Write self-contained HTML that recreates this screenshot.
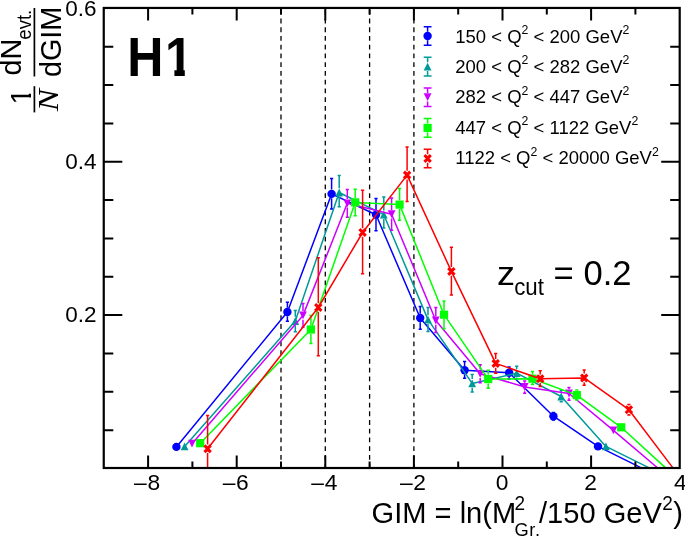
<!DOCTYPE html>
<html><head><meta charset="utf-8"><title>H1 GIM</title>
<style>
html,body{margin:0;padding:0;background:#fff;}
svg{display:block;}
text{font-family:"Liberation Sans",sans-serif;fill:#000;}
.ser{font-family:"Liberation Serif",serif;font-style:italic;}
</style></head><body>
<svg width="685" height="538" viewBox="0 0 685 538">
<rect x="0" y="0" width="685" height="538" fill="#fff"/>
<defs><clipPath id="fr"><rect x="103.8" y="8.0" width="576.0" height="460.4"/></clipPath></defs>

<line x1="281.0" y1="9.87" x2="281.0" y2="468.0" stroke="#000" stroke-width="1.3" stroke-dasharray="4.8,3.928"/>
<line x1="325.3" y1="9.87" x2="325.3" y2="468.0" stroke="#000" stroke-width="1.3" stroke-dasharray="4.8,3.928"/>
<line x1="369.6" y1="9.87" x2="369.6" y2="468.0" stroke="#000" stroke-width="1.3" stroke-dasharray="4.8,3.928"/>
<line x1="413.9" y1="9.87" x2="413.9" y2="468.0" stroke="#000" stroke-width="1.3" stroke-dasharray="4.8,3.928"/>
<g clip-path="url(#fr)">
<polyline fill="none" stroke="#0000ff" stroke-width="1.5" stroke-linejoin="round" points="176.4,446.9 287.4,312.0 331.6,193.9 376.0,214.7 420.2,318.0 464.6,370.2 509.1,372.8 553.4,416.2 598.0,446.4 642.3,468.3"/>
<path d="M287.4,302.3V307.7M287.4,316.3V321.3M285.8,302.3h3.2M285.8,321.3h3.2" stroke="#0000ff" stroke-width="1.5" fill="none"/>
<path d="M331.6,178.6V189.6M331.6,198.2V209.0M330.0,178.6h3.2M330.0,209.0h3.2" stroke="#0000ff" stroke-width="1.5" fill="none"/>
<path d="M376.0,198.4V210.4M376.0,219.0V230.7M374.4,198.4h3.2M374.4,230.7h3.2" stroke="#0000ff" stroke-width="1.5" fill="none"/>
<path d="M420.2,306.4V313.7M420.2,322.3V329.2M418.6,306.4h3.2M418.6,329.2h3.2" stroke="#0000ff" stroke-width="1.5" fill="none"/>
<path d="M464.6,361.6V365.9M464.6,374.5V378.2M463.0,361.6h3.2M463.0,378.2h3.2" stroke="#0000ff" stroke-width="1.5" fill="none"/>
<path d="M509.1,367.0V368.5M509.1,377.1V379.1M507.5,367.0h3.2M507.5,379.1h3.2" stroke="#0000ff" stroke-width="1.5" fill="none"/>
<path d="M551.8,412.5h3.2M551.8,420.0h3.2" stroke="#0000ff" stroke-width="1.5" fill="none"/>
<circle cx="176.4" cy="446.9" r="4.2" fill="#0000ff"/>
<circle cx="287.4" cy="312.0" r="4.2" fill="#0000ff"/>
<circle cx="331.6" cy="193.9" r="4.2" fill="#0000ff"/>
<circle cx="376.0" cy="214.7" r="4.2" fill="#0000ff"/>
<circle cx="420.2" cy="318.0" r="4.2" fill="#0000ff"/>
<circle cx="464.6" cy="370.2" r="4.2" fill="#0000ff"/>
<circle cx="509.1" cy="372.8" r="4.2" fill="#0000ff"/>
<circle cx="553.4" cy="416.2" r="4.2" fill="#0000ff"/>
<circle cx="598.0" cy="446.4" r="4.2" fill="#0000ff"/>
<polyline fill="none" stroke="#009999" stroke-width="1.5" stroke-linejoin="round" points="184.6,446.4 295.3,321.0 339.2,192.5 383.8,214.7 428.0,319.6 472.2,383.4 516.7,373.2 561.2,396.5 605.9,446.4 650.2,468.3"/>
<path d="M295.3,310.5V316.7M295.3,325.3V331.7M293.7,310.5h3.2M293.7,331.7h3.2" stroke="#009999" stroke-width="1.5" fill="none"/>
<path d="M339.2,175.6V188.2M339.2,196.8V206.8M337.6,175.6h3.2M337.6,206.8h3.2" stroke="#009999" stroke-width="1.5" fill="none"/>
<path d="M383.8,196.9V210.4M383.8,219.0V228.0M382.2,196.9h3.2M382.2,228.0h3.2" stroke="#009999" stroke-width="1.5" fill="none"/>
<path d="M428.0,307.5V315.3M428.0,323.9V331.4M426.4,307.5h3.2M426.4,331.4h3.2" stroke="#009999" stroke-width="1.5" fill="none"/>
<path d="M472.2,374.6V379.1M472.2,387.7V392.1M470.6,374.6h3.2M470.6,392.1h3.2" stroke="#009999" stroke-width="1.5" fill="none"/>
<path d="M516.7,366.3V368.9M516.7,377.5V378.7M515.1,366.3h3.2M515.1,378.7h3.2" stroke="#009999" stroke-width="1.5" fill="none"/>
<path d="M561.2,390.2V392.2M561.2,400.8V401.8M559.6,390.2h3.2M559.6,401.8h3.2" stroke="#009999" stroke-width="1.5" fill="none"/>
<polygon points="184.6,442.5 188.5,450.3 180.7,450.3" fill="#009999"/>
<polygon points="295.3,317.1 299.2,324.9 291.4,324.9" fill="#009999"/>
<polygon points="339.2,188.6 343.1,196.4 335.3,196.4" fill="#009999"/>
<polygon points="383.8,210.8 387.7,218.6 379.9,218.6" fill="#009999"/>
<polygon points="428.0,315.7 431.9,323.5 424.1,323.5" fill="#009999"/>
<polygon points="472.2,379.5 476.1,387.3 468.3,387.3" fill="#009999"/>
<polygon points="516.7,369.3 520.6,377.1 512.8,377.1" fill="#009999"/>
<polygon points="561.2,392.6 565.1,400.4 557.3,400.4" fill="#009999"/>
<polygon points="605.9,442.5 609.8,450.3 602.0,450.3" fill="#009999"/>
<polyline fill="none" stroke="#cc00ff" stroke-width="1.5" stroke-linejoin="round" points="192.0,443.7 303.0,315.4 347.3,203.3 391.6,214.2 435.8,320.5 480.2,373.8 524.7,387.0 569.0,393.5 613.4,430.4 657.7,468.0"/>
<path d="M303.0,303.5V311.1M303.0,319.7V327.3M301.4,303.5h3.2M301.4,327.3h3.2" stroke="#cc00ff" stroke-width="1.5" fill="none"/>
<path d="M347.3,189.5V199.0M347.3,207.6V217.2M345.7,189.5h3.2M345.7,217.2h3.2" stroke="#cc00ff" stroke-width="1.5" fill="none"/>
<path d="M391.6,198.0V209.9M391.6,218.5V230.3M390.0,198.0h3.2M390.0,230.3h3.2" stroke="#cc00ff" stroke-width="1.5" fill="none"/>
<path d="M435.8,307.5V316.2M435.8,324.8V332.5M434.2,307.5h3.2M434.2,332.5h3.2" stroke="#cc00ff" stroke-width="1.5" fill="none"/>
<path d="M480.2,364.8V369.5M480.2,378.1V382.8M478.6,364.8h3.2M478.6,382.8h3.2" stroke="#cc00ff" stroke-width="1.5" fill="none"/>
<path d="M524.7,380.9V382.7M524.7,391.3V393.3M523.1,380.9h3.2M523.1,393.3h3.2" stroke="#cc00ff" stroke-width="1.5" fill="none"/>
<path d="M569.0,387.5V389.2M569.0,397.8V400.2M567.4,387.5h3.2M567.4,400.2h3.2" stroke="#cc00ff" stroke-width="1.5" fill="none"/>
<polygon points="192.0,447.6 195.9,439.8 188.1,439.8" fill="#cc00ff"/>
<polygon points="303.0,319.3 306.9,311.5 299.1,311.5" fill="#cc00ff"/>
<polygon points="347.3,207.2 351.2,199.4 343.4,199.4" fill="#cc00ff"/>
<polygon points="391.6,218.1 395.5,210.3 387.7,210.3" fill="#cc00ff"/>
<polygon points="435.8,324.4 439.7,316.6 431.9,316.6" fill="#cc00ff"/>
<polygon points="480.2,377.7 484.1,369.9 476.3,369.9" fill="#cc00ff"/>
<polygon points="524.7,390.9 528.6,383.1 520.8,383.1" fill="#cc00ff"/>
<polygon points="569.0,397.4 572.9,389.6 565.1,389.6" fill="#cc00ff"/>
<polygon points="613.4,434.3 617.3,426.5 609.5,426.5" fill="#cc00ff"/>
<polyline fill="none" stroke="#00ff00" stroke-width="1.5" stroke-linejoin="round" points="200.2,443.2 310.9,329.5 355.2,202.4 399.6,204.6 444.0,314.7 488.2,379.1 532.5,378.7 576.8,395.1 621.2,427.3 665.6,467.9"/>
<path d="M310.9,315.4V325.2M310.9,333.8V343.6M309.3,315.4h3.2M309.3,343.6h3.2" stroke="#00ff00" stroke-width="1.5" fill="none"/>
<path d="M355.2,189.2V198.1M355.2,206.7V215.7M353.6,189.2h3.2M353.6,215.7h3.2" stroke="#00ff00" stroke-width="1.5" fill="none"/>
<path d="M399.6,188.4V200.3M399.6,208.9V220.2M398.0,188.4h3.2M398.0,220.2h3.2" stroke="#00ff00" stroke-width="1.5" fill="none"/>
<path d="M444.0,300.9V310.4M444.0,319.0V328.7M442.4,300.9h3.2M442.4,328.7h3.2" stroke="#00ff00" stroke-width="1.5" fill="none"/>
<path d="M488.2,370.2V374.8M488.2,383.4V388.2M486.6,370.2h3.2M486.6,388.2h3.2" stroke="#00ff00" stroke-width="1.5" fill="none"/>
<path d="M532.5,371.4V374.4M532.5,383.0V384.5M530.9,371.4h3.2M530.9,384.5h3.2" stroke="#00ff00" stroke-width="1.5" fill="none"/>
<path d="M576.8,390.0V390.8M576.8,399.4V400.0M575.2,390.0h3.2M575.2,400.0h3.2" stroke="#00ff00" stroke-width="1.5" fill="none"/>
<rect x="196.1" y="439.1" width="8.2" height="8.2" fill="#00ff00"/>
<rect x="306.8" y="325.4" width="8.2" height="8.2" fill="#00ff00"/>
<rect x="351.1" y="198.3" width="8.2" height="8.2" fill="#00ff00"/>
<rect x="395.5" y="200.5" width="8.2" height="8.2" fill="#00ff00"/>
<rect x="439.9" y="310.6" width="8.2" height="8.2" fill="#00ff00"/>
<rect x="484.1" y="375.0" width="8.2" height="8.2" fill="#00ff00"/>
<rect x="528.4" y="374.6" width="8.2" height="8.2" fill="#00ff00"/>
<rect x="572.7" y="391.0" width="8.2" height="8.2" fill="#00ff00"/>
<rect x="617.1" y="423.2" width="8.2" height="8.2" fill="#00ff00"/>
<polyline fill="none" stroke="#ff0000" stroke-width="1.5" stroke-linejoin="round" points="207.6,448.8 318.3,307.5 362.6,232.5 407.1,175.1 451.4,271.4 495.7,363.4 540.2,378.7 584.2,377.9 628.9,409.7 673.3,468.4"/>
<path d="M207.6,415.6V444.5M207.6,453.1V469.0M206.0,415.6h3.2M206.0,469.0h3.2" stroke="#ff0000" stroke-width="1.5" fill="none"/>
<path d="M318.3,257.8V303.2M318.3,311.8V355.8M316.7,257.8h3.2M316.7,355.8h3.2" stroke="#ff0000" stroke-width="1.5" fill="none"/>
<path d="M362.6,190.3V228.2M362.6,236.8V273.8M361.0,190.3h3.2M361.0,273.8h3.2" stroke="#ff0000" stroke-width="1.5" fill="none"/>
<path d="M407.1,147.0V170.8M407.1,179.4V201.6M405.5,147.0h3.2M405.5,201.6h3.2" stroke="#ff0000" stroke-width="1.5" fill="none"/>
<path d="M451.4,247.2V267.1M451.4,275.7V295.1M449.8,247.2h3.2M449.8,295.1h3.2" stroke="#ff0000" stroke-width="1.5" fill="none"/>
<path d="M495.7,353.4V359.1M495.7,367.7V373.3M494.1,353.4h3.2M494.1,373.3h3.2" stroke="#ff0000" stroke-width="1.5" fill="none"/>
<path d="M540.2,370.7V374.4M540.2,383.0V386.4M538.6,370.7h3.2M538.6,386.4h3.2" stroke="#ff0000" stroke-width="1.5" fill="none"/>
<path d="M584.2,370.0V373.6M584.2,382.2V385.2M582.6,370.0h3.2M582.6,385.2h3.2" stroke="#ff0000" stroke-width="1.5" fill="none"/>
<path d="M628.9,404.5V405.4M628.9,414.0V415.0M627.3,404.5h3.2M627.3,415.0h3.2" stroke="#ff0000" stroke-width="1.5" fill="none"/>
<polygon points="207.60,446.20 209.80,444.30 211.80,446.60 209.50,448.80 211.80,451.00 209.80,453.30 207.60,451.40 205.40,453.30 203.40,451.00 205.70,448.80 203.40,446.60 205.40,444.30" fill="#ff0000"/>
<polygon points="318.30,304.90 320.50,303.00 322.50,305.30 320.20,307.50 322.50,309.70 320.50,312.00 318.30,310.10 316.10,312.00 314.10,309.70 316.40,307.50 314.10,305.30 316.10,303.00" fill="#ff0000"/>
<polygon points="362.60,229.90 364.80,228.00 366.80,230.30 364.50,232.50 366.80,234.70 364.80,237.00 362.60,235.10 360.40,237.00 358.40,234.70 360.70,232.50 358.40,230.30 360.40,228.00" fill="#ff0000"/>
<polygon points="407.10,172.50 409.30,170.60 411.30,172.90 409.00,175.10 411.30,177.30 409.30,179.60 407.10,177.70 404.90,179.60 402.90,177.30 405.20,175.10 402.90,172.90 404.90,170.60" fill="#ff0000"/>
<polygon points="451.40,268.80 453.60,266.90 455.60,269.20 453.30,271.40 455.60,273.60 453.60,275.90 451.40,274.00 449.20,275.90 447.20,273.60 449.50,271.40 447.20,269.20 449.20,266.90" fill="#ff0000"/>
<polygon points="495.70,360.80 497.90,358.90 499.90,361.20 497.60,363.40 499.90,365.60 497.90,367.90 495.70,366.00 493.50,367.90 491.50,365.60 493.80,363.40 491.50,361.20 493.50,358.90" fill="#ff0000"/>
<polygon points="540.20,376.10 542.40,374.20 544.40,376.50 542.10,378.70 544.40,380.90 542.40,383.20 540.20,381.30 538.00,383.20 536.00,380.90 538.30,378.70 536.00,376.50 538.00,374.20" fill="#ff0000"/>
<polygon points="584.20,375.30 586.40,373.40 588.40,375.70 586.10,377.90 588.40,380.10 586.40,382.40 584.20,380.50 582.00,382.40 580.00,380.10 582.30,377.90 580.00,375.70 582.00,373.40" fill="#ff0000"/>
<polygon points="628.90,407.10 631.10,405.20 633.10,407.50 630.80,409.70 633.10,411.90 631.10,414.20 628.90,412.30 626.70,414.20 624.70,411.90 627.00,409.70 624.70,407.50 626.70,405.20" fill="#ff0000"/>
</g>
<rect x="103.75" y="7.95" width="575.95" height="460.05" fill="none" stroke="#000" stroke-width="2.2"/>
<path d="M148.1,468.0v-12.5M148.1,8.0v12.5M192.4,468.0v-6.5M192.4,8.0v6.5M236.7,468.0v-12.5M236.7,8.0v12.5M281.0,468.0v-6.5M281.0,8.0v6.5M325.3,468.0v-12.5M325.3,8.0v12.5M369.6,468.0v-6.5M369.6,8.0v6.5M413.9,468.0v-12.5M413.9,8.0v12.5M458.2,468.0v-6.5M458.2,8.0v6.5M502.5,468.0v-12.5M502.5,8.0v12.5M546.8,468.0v-6.5M546.8,8.0v6.5M591.1,468.0v-12.5M591.1,8.0v12.5M635.4,468.0v-6.5M635.4,8.0v6.5M103.8,430.2h9.5M679.7,430.2h-9.5M103.8,391.8h9.5M679.7,391.8h-9.5M103.8,353.5h9.5M679.7,353.5h-9.5M103.8,315.1h18.5M679.7,315.1h-18.5M103.8,276.8h9.5M679.7,276.8h-9.5M103.8,238.5h9.5M679.7,238.5h-9.5M103.8,200.1h9.5M679.7,200.1h-9.5M103.8,161.8h18.5M679.7,161.8h-18.5M103.8,123.5h9.5M679.7,123.5h-9.5M103.8,85.1h9.5M679.7,85.1h-9.5M103.8,46.8h9.5M679.7,46.8h-9.5" stroke="#000" stroke-width="2" fill="none"/>
<text transform="translate(147.15,490.40) scale(1,1.0)" font-size="22.8" text-anchor="middle">–<tspan dx="0.7">8</tspan></text>
<text transform="translate(235.76,490.40) scale(1,1.0)" font-size="22.8" text-anchor="middle">–<tspan dx="0.7">6</tspan></text>
<text transform="translate(324.37,490.40) scale(1,1.0)" font-size="22.8" text-anchor="middle">–<tspan dx="0.7">4</tspan></text>
<text transform="translate(412.98,490.40) scale(1,1.0)" font-size="22.8" text-anchor="middle">–<tspan dx="0.7">2</tspan></text>
<text transform="translate(501.98,490.40) scale(1,1.0)" font-size="22.8" text-anchor="middle">0</text>
<text transform="translate(590.59,490.40) scale(1,1.0)" font-size="22.8" text-anchor="middle">2</text>
<text transform="translate(680.30,490.40) scale(1,1.0)" font-size="22.8" text-anchor="middle">4</text>
<text transform="translate(96.60,322.25) scale(1,1.0)" font-size="22.5" text-anchor="end">0.2</text>
<text transform="translate(96.60,168.90) scale(1,1.0)" font-size="22.5" text-anchor="end">0.4</text>
<text transform="translate(96.60,16.45) scale(1,1.0)" font-size="22.5" text-anchor="end">0.6</text>
<text transform="translate(127.3,76.1) scale(0.953,1.04)" font-size="52.6" font-weight="bold">H</text>
<clipPath id="c1"><rect x="160" y="30" width="40" height="40"/><rect x="174.4" y="69.9" width="10.4" height="8"/></clipPath>
<g clip-path="url(#c1)"><text transform="translate(165,76.1) scale(0.95,1.04)" font-size="52.6" font-weight="bold">1</text></g>
<text transform="translate(496.9,285.3) scale(1.04,0.965)" font-size="34.6">z</text>
<text transform="translate(514.20,294.60) scale(1,1.04)" font-size="22.3">cut</text>
<text transform="translate(553.62,285.30) scale(1,1.04)" font-size="34.6">= 0.2</text>
<text transform="translate(371.55,522.70) scale(1,1.04)" font-size="29.1">GIM = ln(M</text>
<text transform="translate(514.60,509.80) scale(1,1.04)" font-size="19">2</text>
<text transform="translate(514.40,536.40) scale(1,1.04)" font-size="18.3" letter-spacing="0.7">Gr.</text>
<text transform="translate(539.00,522.70) scale(1,1.04)" font-size="29.1">/150 GeV</text>
<text transform="translate(662.30,509.80) scale(1,1.04)" font-size="19">2</text>
<text transform="translate(673.20,522.70) scale(1,1.04)" font-size="29.1">)</text>
<g transform="translate(0,0) rotate(-90)">
<text transform="translate(-100.2,58.4) scale(1.08,0.97)" font-size="31" text-anchor="middle" class="ser">N</text>
<line x1="-112.4" y1="34.4" x2="-86.2" y2="34.4" stroke="#000" stroke-width="1.7"/>
<text transform="translate(-75.40,21.20) scale(1,1.04)" font-size="28.8">dN<tspan font-size="18.6" dy="9.1" dx="-1.1">evt.</tspan></text>
<text transform="translate(-77.10,60.70) scale(1,1.04)" font-size="28.8">dGIM</text>
<line x1="-76.5" y1="34.4" x2="-8" y2="34.4" stroke="#000" stroke-width="1.7"/>
</g>
<clipPath id="c2"><rect x="0" y="80" width="27.9" height="40"/><rect x="27.9" y="93.7" width="5" height="3.9"/></clipPath>
<g clip-path="url(#c2)"><g transform="rotate(-90)"><text transform="translate(-96.50,31.20) scale(1,1.04)" font-size="28.8" text-anchor="middle">1</text></g></g>
<path d="M427.6,26.7V31.7M427.6,40.3V45.3M423.7,26.7h7.8M423.7,45.3h7.8" stroke="#0000ff" stroke-width="1.5" fill="none"/>
<circle cx="427.6" cy="36.0" r="4.2" fill="#0000ff"/>
<text transform="translate(455.30,42.60) scale(1,1.04)" font-size="18.5">150 &lt; Q<tspan font-size="12.3" dy="-8.3">2</tspan><tspan dy="8.3"> &lt; 200 GeV</tspan><tspan font-size="12.3" dy="-8.3">2</tspan></text>
<path d="M427.6,57.3V62.3M427.6,70.9V75.9M423.7,57.3h7.8M423.7,75.9h7.8" stroke="#009999" stroke-width="1.5" fill="none"/>
<polygon points="427.6,62.7 431.5,70.5 423.7,70.5" fill="#009999"/>
<text transform="translate(455.30,73.00) scale(1,1.04)" font-size="18.5">200 &lt; Q<tspan font-size="12.3" dy="-8.3">2</tspan><tspan dy="8.3"> &lt; 282 GeV</tspan><tspan font-size="12.3" dy="-8.3">2</tspan></text>
<path d="M427.6,87.9V92.9M427.6,101.5V106.5M423.7,87.9h7.8M423.7,106.5h7.8" stroke="#cc00ff" stroke-width="1.5" fill="none"/>
<polygon points="427.6,101.1 431.5,93.3 423.7,93.3" fill="#cc00ff"/>
<text transform="translate(455.30,103.40) scale(1,1.04)" font-size="18.5">282 &lt; Q<tspan font-size="12.3" dy="-8.3">2</tspan><tspan dy="8.3"> &lt; 447 GeV</tspan><tspan font-size="12.3" dy="-8.3">2</tspan></text>
<path d="M427.6,118.6V123.6M427.6,132.2V137.2M423.7,118.6h7.8M423.7,137.2h7.8" stroke="#00ff00" stroke-width="1.5" fill="none"/>
<rect x="423.5" y="123.8" width="8.2" height="8.2" fill="#00ff00"/>
<text transform="translate(455.30,133.80) scale(1,1.04)" font-size="18.5">447 &lt; Q<tspan font-size="12.3" dy="-8.3">2</tspan><tspan dy="8.3"> &lt; 1122 GeV</tspan><tspan font-size="12.3" dy="-8.3">2</tspan></text>
<path d="M427.6,149.2V154.2M427.6,162.8V167.8M423.7,149.2h7.8M423.7,167.8h7.8" stroke="#ff0000" stroke-width="1.5" fill="none"/>
<polygon points="427.60,155.88 429.80,153.98 431.80,156.28 429.50,158.48 431.80,160.68 429.80,162.98 427.60,161.08 425.40,162.98 423.40,160.68 425.70,158.48 423.40,156.28 425.40,153.98" fill="#ff0000"/>
<text transform="translate(455.30,164.20) scale(1,1.04)" font-size="18.5">1122 &lt; Q<tspan font-size="12.3" dy="-8.3">2</tspan><tspan dy="8.3"> &lt; 20000 GeV</tspan><tspan font-size="12.3" dy="-8.3">2</tspan></text>
</svg></body></html>
